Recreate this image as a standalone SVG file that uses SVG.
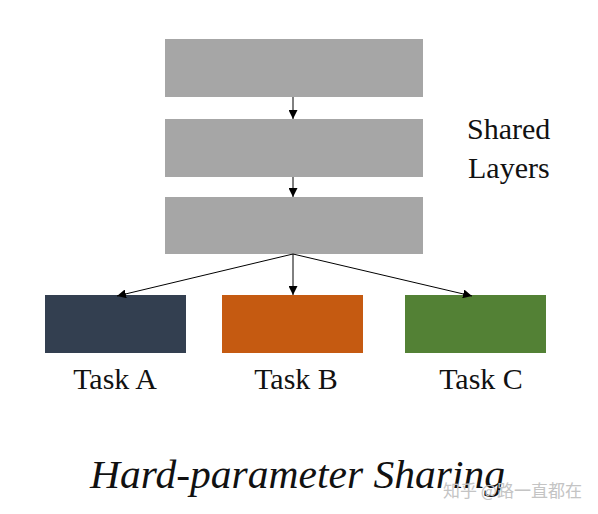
<svg xmlns="http://www.w3.org/2000/svg" width="598" height="514" viewBox="0 0 598 514">
<style>
.shared{fill:#a6a6a6}
.lbl{font-family:"Liberation Serif","DejaVu Serif",serif;font-size:30px;fill:#111}
.title{font-family:"Liberation Serif","DejaVu Serif",serif;font-size:41px;font-style:italic;fill:#111}
.wm{font-family:"Noto Sans CJK SC","Noto Sans",sans-serif;font-size:17px;fill:#c4c4c4}
.conn{stroke:#000;stroke-width:1;fill:none;marker-end:url(#ah)}
</style>
<defs>
<marker id="ah" viewBox="0 0 10 10" refX="10" refY="5" markerWidth="9" markerHeight="9" markerUnits="userSpaceOnUse" orient="auto">
<path d="M0,0 L10,5 L0,10 Z" fill="#000"/>
</marker>
</defs>
<rect width="598" height="514" fill="#fff"/>
<g id="layer1"><rect class="shared" x="165" y="39" width="258" height="58"/></g>
<g id="layer2"><rect class="shared" x="165" y="119" width="258" height="58"/></g>
<g id="layer3"><rect class="shared" x="165" y="197" width="258" height="57"/></g>
<g id="shared-label">
<text class="lbl" x="467" y="139">Shared</text>
<text class="lbl" x="468" y="178">Layers</text>
</g>
<g id="taskA"><rect x="45" y="295" width="141" height="58" fill="#333f50"/><text class="lbl" x="115" y="389" text-anchor="middle">Task A</text></g>
<g id="taskB"><rect x="222" y="295" width="141" height="58" fill="#c55a11"/><text class="lbl" x="296" y="389" text-anchor="middle">Task B</text></g>
<g id="taskC"><rect x="405" y="295" width="141" height="58" fill="#538135"/><text class="lbl" x="481" y="389" text-anchor="middle">Task C</text></g>
<g id="connectors">
<line class="conn" x1="293" y1="97" x2="293" y2="119"/>
<line class="conn" x1="293" y1="177" x2="293" y2="197"/>
<line class="conn" x1="293" y1="254" x2="117" y2="296"/>
<line class="conn" x1="293" y1="254" x2="293" y2="295"/>
<line class="conn" x1="293" y1="254" x2="472" y2="296"/>
</g>
<text class="title" x="90" y="488" textLength="415" lengthAdjust="spacingAndGlyphs">Hard-parameter Sharing</text>
<text class="wm" x="443" y="497">知乎 @路一直都在</text>
</svg>
